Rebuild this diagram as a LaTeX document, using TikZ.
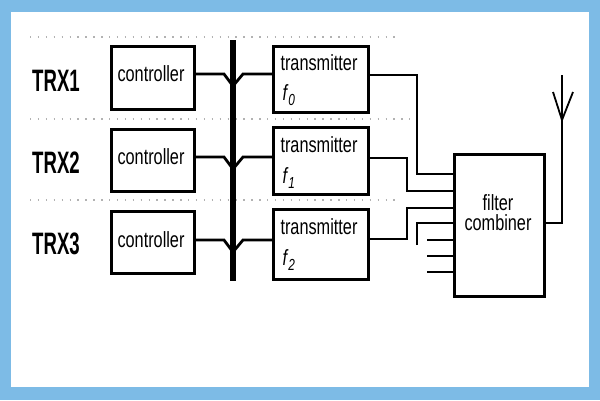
\documentclass[tikz,border=0pt]{standalone}
\usepackage{fontspec}
\setmainfont{Liberation Sans}
\newfontfamily\narrowf{Liberation Sans}[FakeStretch=0.74]
\newfontfamily\narrowb{Liberation Sans}[FakeStretch=0.6]
\newcommand{\fsub}[1]{\textit{f}\raisebox{-5pt}{\fontsize{16}{17}\selectfont\textit{#1}}}
\begin{document}
\begin{tikzpicture}[x=1pt,y=-1pt,
  wire/.style={line width=2.8pt},
  dots/.style={line width=1.4pt,gray!60,dash pattern=on 1.4pt off 6.5pt},
  lbl/.style={font=\narrowb\fontsize{31}{33}\selectfont\bfseries},
  txt/.style={font=\narrowf\fontsize{22}{23}\selectfont}]
\fill[fill={rgb,255:red,125;green,187;blue,230}] (0,0) rectangle (600,400);
\fill[white] (11,12) rectangle (589,387);
\useasboundingbox (0,0) rectangle (600,400);
% dotted
\draw[dots] (30,37) -- (395,37);
\draw[dots] (30,119) -- (410,119);
\draw[dots] (30,200) -- (395,200);
% labels
\node[lbl] (t1) at (56,81) {TRX1};
\node[lbl] (t2) at (56,163) {TRX2};
\node[lbl] (t3) at (56,244) {TRX3};
% controllers
\node[draw,line width=2.6pt,minimum width=83pt,minimum height=63pt,anchor=north west] (c1) at (110,45) {};
\node[txt] at (151,74) {controller};
\node[draw,line width=2.6pt,minimum width=83pt,minimum height=62pt,anchor=north west] (c2) at (110,128) {};
\node[txt] at (151,157) {controller};
\node[draw,line width=2.6pt,minimum width=83pt,minimum height=62pt,anchor=north west] (c3) at (110,210) {};
\node[txt] at (151,240) {controller};
% transmitters
\node[draw,line width=2.6pt,minimum width=95pt,minimum height=66pt,anchor=north west] (x1) at (272,45) {};
\node[draw,line width=2.6pt,minimum width=95pt,minimum height=67pt,anchor=north west] (x2) at (272,126) {};
\node[draw,line width=2.6pt,minimum width=95pt,minimum height=70pt,anchor=north west] (x3) at (272,208) {};
\node[txt,anchor=west] at (277,63) {transmitter};
\node[txt,anchor=west] at (279,95) {\fsub{0}};
\node[txt,anchor=west] at (277,145) {transmitter};
\node[txt,anchor=west] at (279,178) {\fsub{1}};
\node[txt,anchor=west] at (277,227) {transmitter};
\node[txt,anchor=west] at (279,260) {\fsub{2}};
% bus
\coordinate (bt) at (233,40);
\coordinate (bb) at (233,281);
\draw[line width=6pt] (bt) -- (bb);
% controller to transmitter via bus
\draw[wire] (c1.east |- 0,74) -- (224,74) -- (233,86) -- (243,74) -- (x1.west |- 0,74);
\draw[wire] (c2.east |- 0,157) -- (224,157) -- (233,169) -- (243,157) -- (x2.west |- 0,157);
\draw[wire] (c3.east |- 0,240) -- (224,240) -- (233,252) -- (243,240) -- (x3.west |- 0,240);
% filter combiner
\node[draw,line width=2.6pt,minimum width=90pt,minimum height=142pt,anchor=north west] (fc) at (453,153) {};
\node[txt,align=center] at (498,213) {filter\\[-3pt]combiner};
% transmitter outputs
\draw[wire] (x1.east |- 0,75) -- (417,75) -- (417,174) -- (fc.west |- 0,174);
\draw[wire] (x2.east |- 0,158) -- (407,158) -- (407,191) -- (fc.west |- 0,191);
\draw[wire] (x3.east |- 0,239) -- (407,239) -- (407,208) -- (fc.west |- 0,208);
\coordinate (s0) at (417,245);
\draw[wire] (s0) -- (417,223) -- (fc.west |- 0,223);
\coordinate (s1) at (427,240);
\coordinate (s2) at (427,256);
\coordinate (s3) at (427,272);
\draw[wire] (s1) -- (fc.west |- s1);
\draw[wire] (s2) -- (fc.west |- s2);
\draw[wire] (s3) -- (fc.west |- s3);
% antenna
\coordinate (a0) at (562,75);
\coordinate (al) at (553,92);
\coordinate (ar) at (573,92);
\coordinate (atip) at (562,120);
\draw[wire] (fc.east |- 0,223) -- (562,223) -- (a0);
\draw[line width=1.8pt] (al) -- (atip) -- (ar);
\end{tikzpicture}
\end{document}
